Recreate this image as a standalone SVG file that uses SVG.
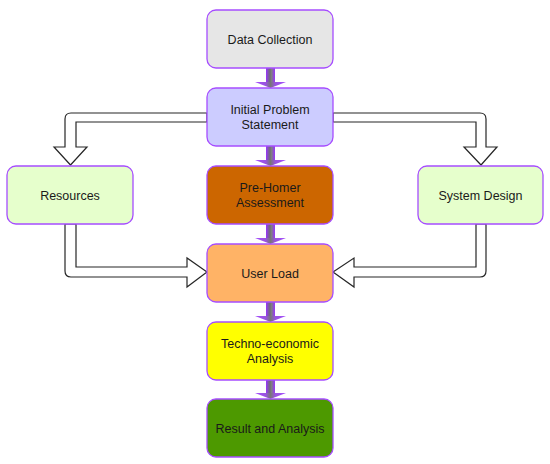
<svg xmlns="http://www.w3.org/2000/svg" width="550" height="464" viewBox="0 0 550 464">
<defs>
<linearGradient id="gs" x1="0" y1="0" x2="1" y2="0">
<stop offset="0" stop-color="#9933ff"/><stop offset="0.45" stop-color="#707070"/><stop offset="0.6" stop-color="#808080"/><stop offset="1" stop-color="#9933ff"/>
</linearGradient>
<linearGradient id="gh" x1="0" y1="0" x2="1" y2="0">
<stop offset="0" stop-color="#a64dff"/><stop offset="0.35" stop-color="#9955dd"/><stop offset="0.5" stop-color="#777777"/><stop offset="0.65" stop-color="#9955dd"/><stop offset="1" stop-color="#a64dff"/>
</linearGradient>
<style>
.box{stroke:#a64dff;stroke-width:1.3}
.lbl{font-family:"Liberation Sans",Arial,sans-serif;font-size:12.5px;fill:#1a1a1a;text-anchor:middle}
.blk{fill:#ffffff;stroke:#262626;stroke-width:1.2;stroke-linejoin:miter}
.shaft{fill:url(#gs)}
.head{fill:url(#gh)}
</style>
</defs>
<rect width="550" height="464" fill="#ffffff"/>
<g id="connectors">
<path class="blk" d="M207,113 H71 Q65,113 65,119 V147 H54 L70.5,165 L87,147 H76 V122 H207 Z"/>
<path class="blk" d="M65,224 V271 Q65,277 71,277 H187 V287 L207,272 L187,258 V267 H76 V224 Z"/>
<path class="blk" d="M333,113 H480 Q486,113 486,119 V147 H497 L481,165 L464,147 H476 V122 H333 Z"/>
<path class="blk" d="M486,224 V271 Q486,277 480,277 H354 V287 L333,272 L354,258 V267 H476 V224 Z"/>
<g>
<rect class="shaft" x="266" y="68" width="9" height="14"/><path class="head" d="M255,82 H286 L270.5,88 Z"/>
<rect class="shaft" x="266" y="146" width="9" height="14"/><path class="head" d="M255,160 H286 L270.5,166 Z"/>
<rect class="shaft" x="266" y="224" width="9" height="14"/><path class="head" d="M255,238 H286 L270.5,244 Z"/>
<rect class="shaft" x="266" y="302" width="9" height="14"/><path class="head" d="M255,316 H286 L270.5,322 Z"/>
<rect class="shaft" x="266" y="380" width="9" height="13"/><path class="head" d="M255,393 H286 L270.5,399 Z"/>
</g>
</g>
<g id="data-collection"><rect class="box" x="207" y="10" width="126" height="58" rx="9" fill="#e6e6e6"/><text class="lbl" x="270" y="43.5">Data Collection</text></g>
<g id="initial-problem"><rect class="box" x="207" y="88" width="126" height="58" rx="9" fill="#ccccff"/><text class="lbl" x="270" y="113.5">Initial Problem</text><text class="lbl" x="270" y="128.5">Statement</text></g>
<g id="pre-homer"><rect class="box" x="207" y="166" width="126" height="58" rx="9" fill="#cc6600"/><text class="lbl" x="270" y="191.5">Pre-Homer</text><text class="lbl" x="270" y="206.5">Assessment</text></g>
<g id="user-load"><rect class="box" x="207" y="244" width="126" height="58" rx="9" fill="#ffb366"/><text class="lbl" x="270" y="277.5">User Load</text></g>
<g id="techno-economic"><rect class="box" x="207" y="322" width="126" height="58" rx="9" fill="#ffff00"/><text class="lbl" x="270" y="347.5">Techno-economic</text><text class="lbl" x="270" y="362.5">Analysis</text></g>
<g id="result"><rect class="box" x="207" y="399" width="126" height="58" rx="9" fill="#4d9900"/><text class="lbl" x="270" y="432.5">Result and Analysis</text></g>
<g id="resources"><rect class="box" x="7" y="166" width="126" height="58" rx="9" fill="#e6ffcc"/><text class="lbl" x="70" y="199.5">Resources</text></g>
<g id="system-design"><rect class="box" x="418" y="166" width="125" height="58" rx="9" fill="#e6ffcc"/><text class="lbl" x="480.5" y="199.5">System Design</text></g>
</svg>
